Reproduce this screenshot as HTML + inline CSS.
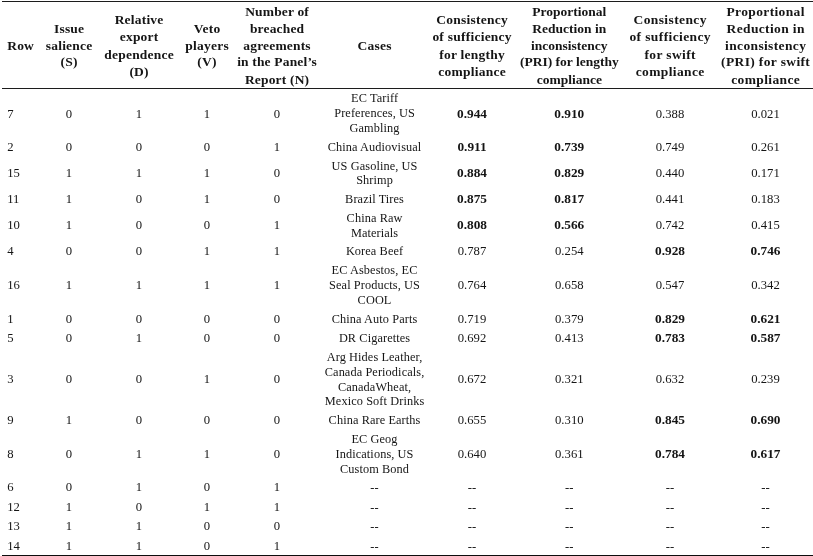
<!DOCTYPE html>
<html><head><meta charset="utf-8">
<style>
html,body{margin:0;padding:0;background:#fff;}
#w{position:absolute;left:0;top:0;width:813px;height:556px;background:#fff;will-change:transform;}
body{width:813px;height:556px;position:relative;overflow:hidden;font-family:"Liberation Serif",serif;color:#151515;}
div{position:absolute;white-space:nowrap;text-align:center;}
.h{font-weight:bold;font-size:13.5px;line-height:17px;}
.t{font-size:12.3px;line-height:15px;}
.n{font-size:12.7px;line-height:15px;}
.nb{font-weight:bold;font-size:13.3px;line-height:15px;}
.rule{left:2px;width:811px;background:#1c1c1c;}
</style></head><body>
<div id="w">
<div class="rule" style="top:1px;height:1px"></div>
<div class="rule" style="top:88px;height:1px"></div>
<div class="rule" style="top:555px;height:1px;background:#0d0d0d"></div>
<div class="h" style="left:7.20px;top:37px;text-align:left;transform-origin:0 13px;letter-spacing:0.2px">Row</div>
<div class="h" style="left:-0.90px;top:20px;width:140px;letter-spacing:0.2px">Issue</div>
<div class="h" style="left:-0.90px;top:37px;width:140px;letter-spacing:0.2px">salience</div>
<div class="h" style="left:-0.90px;top:53px;width:140px;letter-spacing:0.2px">(S)</div>
<div class="h" style="left:69.10px;top:11px;width:140px;letter-spacing:0.2px">Relative</div>
<div class="h" style="left:69.10px;top:28px;width:140px;letter-spacing:0.2px">export</div>
<div class="h" style="left:69.10px;top:46px;width:140px;letter-spacing:0.2px">dependence</div>
<div class="h" style="left:69.10px;top:63px;width:140px;letter-spacing:0.2px">(D)</div>
<div class="h" style="left:137.12px;top:20px;width:140px;letter-spacing:0.25px">Veto</div>
<div class="h" style="left:137.12px;top:37px;width:140px;letter-spacing:0.25px">players</div>
<div class="h" style="left:137.12px;top:53px;width:140px;letter-spacing:0.25px">(V)</div>
<div class="h" style="left:207.09px;top:3px;width:140px;letter-spacing:0.17px">Number of</div>
<div class="h" style="left:207.09px;top:20px;width:140px;letter-spacing:0.17px">breached</div>
<div class="h" style="left:207.09px;top:37px;width:140px;letter-spacing:0.17px">agreements</div>
<div class="h" style="left:207.09px;top:53px;width:140px;letter-spacing:0.17px">in the Panel’s</div>
<div class="h" style="left:207.09px;top:71px;width:140px;letter-spacing:0.17px">Report (N)</div>
<div class="h" style="left:304.65px;top:37px;width:140px;letter-spacing:0.3px">Cases</div>
<div class="h" style="left:402.12px;top:11px;width:140px;letter-spacing:0.24px">Consistency</div>
<div class="h" style="left:402.12px;top:28px;width:140px;letter-spacing:0.24px">of sufficiency</div>
<div class="h" style="left:402.12px;top:46px;width:140px;letter-spacing:0.24px">for lengthy</div>
<div class="h" style="left:402.12px;top:63px;width:140px;letter-spacing:0.24px">compliance</div>
<div class="h" style="left:499.30px;top:3px;width:140px">Proportional</div>
<div class="h" style="left:499.30px;top:20px;width:140px">Reduction in</div>
<div class="h" style="left:499.30px;top:37px;width:140px">inconsistency</div>
<div class="h" style="left:499.30px;top:53px;width:140px">(PRI) for lengthy</div>
<div class="h" style="left:499.30px;top:71px;width:140px">compliance</div>
<div class="h" style="left:600.19px;top:11px;width:140px;letter-spacing:0.38px">Consistency</div>
<div class="h" style="left:600.19px;top:28px;width:140px;letter-spacing:0.38px">of sufficiency</div>
<div class="h" style="left:600.19px;top:46px;width:140px;letter-spacing:0.38px">for swift</div>
<div class="h" style="left:600.19px;top:63px;width:140px;letter-spacing:0.38px">compliance</div>
<div class="h" style="left:695.68px;top:3px;width:140px;letter-spacing:0.36px">Proportional</div>
<div class="h" style="left:695.68px;top:20px;width:140px;letter-spacing:0.36px">Reduction in</div>
<div class="h" style="left:695.68px;top:37px;width:140px;letter-spacing:0.36px">inconsistency</div>
<div class="h" style="left:695.68px;top:53px;width:140px;letter-spacing:0.36px">(PRI) for swift</div>
<div class="h" style="left:695.68px;top:71px;width:140px;letter-spacing:0.36px">compliance</div>
<div class="n" style="left:7.20px;top:107px;text-align:left;transform-origin:0 11px">7</div>
<div class="n" style="left:49.00px;top:107px;width:40px">0</div>
<div class="n" style="left:119.00px;top:107px;width:40px">1</div>
<div class="n" style="left:187.00px;top:107px;width:40px">1</div>
<div class="n" style="left:257.00px;top:107px;width:40px">0</div>
<div class="t" style="left:309.55px;top:91px;width:130px;letter-spacing:0.1px">EC Tariff</div>
<div class="t" style="left:309.55px;top:106px;width:130px;letter-spacing:0.1px">Preferences, US</div>
<div class="t" style="left:309.55px;top:121px;width:130px;letter-spacing:0.1px">Gambling</div>
<div class="nb" style="left:442.00px;top:106px;width:60px">0.944</div>
<div class="nb" style="left:539.30px;top:106px;width:60px">0.910</div>
<div class="n" style="left:640.00px;top:107px;width:60px">0.388</div>
<div class="n" style="left:735.50px;top:107px;width:60px">0.021</div>
<div class="n" style="left:7.20px;top:140px;text-align:left;transform-origin:0 11px">2</div>
<div class="n" style="left:49.00px;top:140px;width:40px">0</div>
<div class="n" style="left:119.00px;top:140px;width:40px">0</div>
<div class="n" style="left:187.00px;top:140px;width:40px">0</div>
<div class="n" style="left:257.00px;top:140px;width:40px">1</div>
<div class="t" style="left:309.55px;top:140px;width:130px;letter-spacing:0.1px">China Audiovisual</div>
<div class="nb" style="left:442.00px;top:139px;width:60px">0.911</div>
<div class="nb" style="left:539.30px;top:139px;width:60px">0.739</div>
<div class="n" style="left:640.00px;top:140px;width:60px">0.749</div>
<div class="n" style="left:735.50px;top:140px;width:60px">0.261</div>
<div class="n" style="left:7.20px;top:166px;text-align:left;transform-origin:0 11px">15</div>
<div class="n" style="left:49.00px;top:166px;width:40px">1</div>
<div class="n" style="left:119.00px;top:166px;width:40px">1</div>
<div class="n" style="left:187.00px;top:166px;width:40px">1</div>
<div class="n" style="left:257.00px;top:166px;width:40px">0</div>
<div class="t" style="left:309.55px;top:159px;width:130px;letter-spacing:0.1px">US Gasoline, US</div>
<div class="t" style="left:309.55px;top:173px;width:130px;letter-spacing:0.1px">Shrimp</div>
<div class="nb" style="left:442.00px;top:165px;width:60px">0.884</div>
<div class="nb" style="left:539.30px;top:165px;width:60px">0.829</div>
<div class="n" style="left:640.00px;top:166px;width:60px">0.440</div>
<div class="n" style="left:735.50px;top:166px;width:60px">0.171</div>
<div class="n" style="left:7.20px;top:192px;text-align:left;transform-origin:0 11px">11</div>
<div class="n" style="left:49.00px;top:192px;width:40px">1</div>
<div class="n" style="left:119.00px;top:192px;width:40px">0</div>
<div class="n" style="left:187.00px;top:192px;width:40px">1</div>
<div class="n" style="left:257.00px;top:192px;width:40px">0</div>
<div class="t" style="left:309.55px;top:192px;width:130px;letter-spacing:0.1px">Brazil Tires</div>
<div class="nb" style="left:442.00px;top:191px;width:60px">0.875</div>
<div class="nb" style="left:539.30px;top:191px;width:60px">0.817</div>
<div class="n" style="left:640.00px;top:192px;width:60px">0.441</div>
<div class="n" style="left:735.50px;top:192px;width:60px">0.183</div>
<div class="n" style="left:7.20px;top:218px;text-align:left;transform-origin:0 11px">10</div>
<div class="n" style="left:49.00px;top:218px;width:40px">1</div>
<div class="n" style="left:119.00px;top:218px;width:40px">0</div>
<div class="n" style="left:187.00px;top:218px;width:40px">0</div>
<div class="n" style="left:257.00px;top:218px;width:40px">1</div>
<div class="t" style="left:309.55px;top:211px;width:130px;letter-spacing:0.1px">China Raw</div>
<div class="t" style="left:309.55px;top:226px;width:130px;letter-spacing:0.1px">Materials</div>
<div class="nb" style="left:442.00px;top:217px;width:60px">0.808</div>
<div class="nb" style="left:539.30px;top:217px;width:60px">0.566</div>
<div class="n" style="left:640.00px;top:218px;width:60px">0.742</div>
<div class="n" style="left:735.50px;top:218px;width:60px">0.415</div>
<div class="n" style="left:7.20px;top:244px;text-align:left;transform-origin:0 11px">4</div>
<div class="n" style="left:49.00px;top:244px;width:40px">0</div>
<div class="n" style="left:119.00px;top:244px;width:40px">0</div>
<div class="n" style="left:187.00px;top:244px;width:40px">1</div>
<div class="n" style="left:257.00px;top:244px;width:40px">1</div>
<div class="t" style="left:309.55px;top:244px;width:130px;letter-spacing:0.1px">Korea Beef</div>
<div class="n" style="left:442.00px;top:244px;width:60px">0.787</div>
<div class="n" style="left:539.30px;top:244px;width:60px">0.254</div>
<div class="nb" style="left:640.00px;top:243px;width:60px">0.928</div>
<div class="nb" style="left:735.50px;top:243px;width:60px">0.746</div>
<div class="n" style="left:7.20px;top:278px;text-align:left;transform-origin:0 11px">16</div>
<div class="n" style="left:49.00px;top:278px;width:40px">1</div>
<div class="n" style="left:119.00px;top:278px;width:40px">1</div>
<div class="n" style="left:187.00px;top:278px;width:40px">1</div>
<div class="n" style="left:257.00px;top:278px;width:40px">1</div>
<div class="t" style="left:309.55px;top:263px;width:130px;letter-spacing:0.1px">EC Asbestos, EC</div>
<div class="t" style="left:309.55px;top:278px;width:130px;letter-spacing:0.1px">Seal Products, US</div>
<div class="t" style="left:309.55px;top:293px;width:130px;letter-spacing:0.1px">COOL</div>
<div class="n" style="left:442.00px;top:278px;width:60px">0.764</div>
<div class="n" style="left:539.30px;top:278px;width:60px">0.658</div>
<div class="n" style="left:640.00px;top:278px;width:60px">0.547</div>
<div class="n" style="left:735.50px;top:278px;width:60px">0.342</div>
<div class="n" style="left:7.20px;top:312px;text-align:left;transform-origin:0 11px">1</div>
<div class="n" style="left:49.00px;top:312px;width:40px">0</div>
<div class="n" style="left:119.00px;top:312px;width:40px">0</div>
<div class="n" style="left:187.00px;top:312px;width:40px">0</div>
<div class="n" style="left:257.00px;top:312px;width:40px">0</div>
<div class="t" style="left:309.55px;top:312px;width:130px;letter-spacing:0.1px">China Auto Parts</div>
<div class="n" style="left:442.00px;top:312px;width:60px">0.719</div>
<div class="n" style="left:539.30px;top:312px;width:60px">0.379</div>
<div class="nb" style="left:640.00px;top:311px;width:60px">0.829</div>
<div class="nb" style="left:735.50px;top:311px;width:60px">0.621</div>
<div class="n" style="left:7.20px;top:331px;text-align:left;transform-origin:0 11px">5</div>
<div class="n" style="left:49.00px;top:331px;width:40px">0</div>
<div class="n" style="left:119.00px;top:331px;width:40px">1</div>
<div class="n" style="left:187.00px;top:331px;width:40px">0</div>
<div class="n" style="left:257.00px;top:331px;width:40px">0</div>
<div class="t" style="left:309.55px;top:331px;width:130px;letter-spacing:0.1px">DR Cigarettes</div>
<div class="n" style="left:442.00px;top:331px;width:60px">0.692</div>
<div class="n" style="left:539.30px;top:331px;width:60px">0.413</div>
<div class="nb" style="left:640.00px;top:330px;width:60px">0.783</div>
<div class="nb" style="left:735.50px;top:330px;width:60px">0.587</div>
<div class="n" style="left:7.20px;top:372px;text-align:left;transform-origin:0 11px">3</div>
<div class="n" style="left:49.00px;top:372px;width:40px">0</div>
<div class="n" style="left:119.00px;top:372px;width:40px">0</div>
<div class="n" style="left:187.00px;top:372px;width:40px">1</div>
<div class="n" style="left:257.00px;top:372px;width:40px">0</div>
<div class="t" style="left:309.55px;top:350px;width:130px;letter-spacing:0.1px">Arg Hides Leather,</div>
<div class="t" style="left:309.55px;top:365px;width:130px;letter-spacing:0.1px">Canada Periodicals,</div>
<div class="t" style="left:309.55px;top:380px;width:130px;letter-spacing:0.1px">CanadaWheat,</div>
<div class="t" style="left:309.55px;top:394px;width:130px;letter-spacing:0.1px">Mexico Soft Drinks</div>
<div class="n" style="left:442.00px;top:372px;width:60px">0.672</div>
<div class="n" style="left:539.30px;top:372px;width:60px">0.321</div>
<div class="n" style="left:640.00px;top:372px;width:60px">0.632</div>
<div class="n" style="left:735.50px;top:372px;width:60px">0.239</div>
<div class="n" style="left:7.20px;top:413px;text-align:left;transform-origin:0 11px">9</div>
<div class="n" style="left:49.00px;top:413px;width:40px">1</div>
<div class="n" style="left:119.00px;top:413px;width:40px">0</div>
<div class="n" style="left:187.00px;top:413px;width:40px">0</div>
<div class="n" style="left:257.00px;top:413px;width:40px">0</div>
<div class="t" style="left:309.55px;top:413px;width:130px;letter-spacing:0.1px">China Rare Earths</div>
<div class="n" style="left:442.00px;top:413px;width:60px">0.655</div>
<div class="n" style="left:539.30px;top:413px;width:60px">0.310</div>
<div class="nb" style="left:640.00px;top:412px;width:60px">0.845</div>
<div class="nb" style="left:735.50px;top:412px;width:60px">0.690</div>
<div class="n" style="left:7.20px;top:447px;text-align:left;transform-origin:0 11px">8</div>
<div class="n" style="left:49.00px;top:447px;width:40px">0</div>
<div class="n" style="left:119.00px;top:447px;width:40px">1</div>
<div class="n" style="left:187.00px;top:447px;width:40px">1</div>
<div class="n" style="left:257.00px;top:447px;width:40px">0</div>
<div class="t" style="left:309.55px;top:432px;width:130px;letter-spacing:0.1px">EC Geog</div>
<div class="t" style="left:309.55px;top:447px;width:130px;letter-spacing:0.1px">Indications, US</div>
<div class="t" style="left:309.55px;top:462px;width:130px;letter-spacing:0.1px">Custom Bond</div>
<div class="n" style="left:442.00px;top:447px;width:60px">0.640</div>
<div class="n" style="left:539.30px;top:447px;width:60px">0.361</div>
<div class="nb" style="left:640.00px;top:446px;width:60px">0.784</div>
<div class="nb" style="left:735.50px;top:446px;width:60px">0.617</div>
<div class="n" style="left:7.20px;top:480px;text-align:left;transform-origin:0 11px">6</div>
<div class="n" style="left:49.00px;top:480px;width:40px">0</div>
<div class="n" style="left:119.00px;top:480px;width:40px">1</div>
<div class="n" style="left:187.00px;top:480px;width:40px">0</div>
<div class="n" style="left:257.00px;top:480px;width:40px">1</div>
<div class="t" style="left:309.55px;top:480px;width:130px;letter-spacing:0.1px">--</div>
<div class="n" style="left:442.00px;top:480px;width:60px">--</div>
<div class="n" style="left:539.30px;top:480px;width:60px">--</div>
<div class="n" style="left:640.00px;top:480px;width:60px">--</div>
<div class="n" style="left:735.50px;top:480px;width:60px">--</div>
<div class="n" style="left:7.20px;top:500px;text-align:left;transform-origin:0 11px">12</div>
<div class="n" style="left:49.00px;top:500px;width:40px">1</div>
<div class="n" style="left:119.00px;top:500px;width:40px">0</div>
<div class="n" style="left:187.00px;top:500px;width:40px">1</div>
<div class="n" style="left:257.00px;top:500px;width:40px">1</div>
<div class="t" style="left:309.55px;top:500px;width:130px;letter-spacing:0.1px">--</div>
<div class="n" style="left:442.00px;top:500px;width:60px">--</div>
<div class="n" style="left:539.30px;top:500px;width:60px">--</div>
<div class="n" style="left:640.00px;top:500px;width:60px">--</div>
<div class="n" style="left:735.50px;top:500px;width:60px">--</div>
<div class="n" style="left:7.20px;top:519px;text-align:left;transform-origin:0 11px">13</div>
<div class="n" style="left:49.00px;top:519px;width:40px">1</div>
<div class="n" style="left:119.00px;top:519px;width:40px">1</div>
<div class="n" style="left:187.00px;top:519px;width:40px">0</div>
<div class="n" style="left:257.00px;top:519px;width:40px">0</div>
<div class="t" style="left:309.55px;top:519px;width:130px;letter-spacing:0.1px">--</div>
<div class="n" style="left:442.00px;top:519px;width:60px">--</div>
<div class="n" style="left:539.30px;top:519px;width:60px">--</div>
<div class="n" style="left:640.00px;top:519px;width:60px">--</div>
<div class="n" style="left:735.50px;top:519px;width:60px">--</div>
<div class="n" style="left:7.20px;top:539px;text-align:left;transform-origin:0 11px">14</div>
<div class="n" style="left:49.00px;top:539px;width:40px">1</div>
<div class="n" style="left:119.00px;top:539px;width:40px">1</div>
<div class="n" style="left:187.00px;top:539px;width:40px">0</div>
<div class="n" style="left:257.00px;top:539px;width:40px">1</div>
<div class="t" style="left:309.55px;top:539px;width:130px;letter-spacing:0.1px">--</div>
<div class="n" style="left:442.00px;top:539px;width:60px">--</div>
<div class="n" style="left:539.30px;top:539px;width:60px">--</div>
<div class="n" style="left:640.00px;top:539px;width:60px">--</div>
<div class="n" style="left:735.50px;top:539px;width:60px">--</div>
</div>
</body></html>
